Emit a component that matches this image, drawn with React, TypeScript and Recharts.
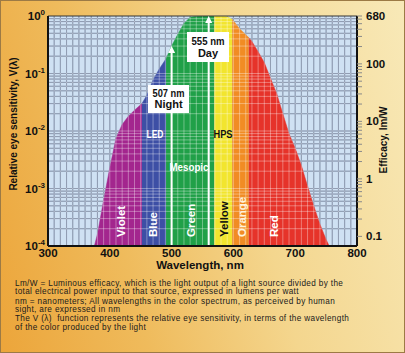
import React from "react";
import {
    ComposedChart,
    Area,
    XAxis,
    YAxis,
    CartesianGrid,
    ReferenceLine,
} from "recharts";

// V(lambda) curve as drawn in the picture (nm -> relative sensitivity)
const WAVELENGTHS = [
    375, 380, 390, 400, 410, 420, 430, 440, 452, 460, 470, 480, 491, 500, 510,
    520, 530, 540, 550, 560, 569, 580, 590, 598, 610, 620, 625, 630, 640, 650,
    660, 670, 680, 690, 700, 710, 720, 730, 740, 750, 755,
];
const SENSITIVITY = [
    0.0001, 0.00016, 0.00063, 0.0023, 0.0075, 0.013, 0.018, 0.023, 0.03, 0.042,
    0.077, 0.12, 0.18, 0.3, 0.48, 0.74, 0.95, 0.99, 1, 1, 1, 1, 0.97, 0.88, 0.6,
    0.47, 0.42, 0.36, 0.24, 0.155, 0.083, 0.045, 0.02, 0.009, 0.005, 0.0025,
    0.0011, 0.0005, 0.00024, 0.00013, 0.0001,
];

const BAND_NAMES = ["Violet", "Blue", "Green", "Yellow", "Orange", "Red"];
const BAND_FROM = [375, 452, 491, 569, 598, 625];
const BAND_TO = [452, 491, 569, 598, 625, 755];
const BAND_COLORS = ["#a3268e", "#3d4fa5", "#20a048", "#f2e52e", "#f18c24", "#e6332a"];
const BAND_TEXT = ["#ffffff", "#ffffff", "#ffffff", "#111111", "#fff4dc", "#ffffff"];

const X_TICKS = [300, 400, 500, 600, 700, 800];
const V_TICKS = [0.0001, 0.001, 0.01, 0.1, 1];
const EFF_MAJOR = [0.1, 1, 10, 100, 680];
const EFF_MINOR = [
    0.2, 0.3, 0.4, 0.5, 0.6, 0.7, 0.8, 0.9, 2, 3, 4, 5, 6, 7, 8, 9, 20, 30, 40,
    50, 60, 70, 80, 90, 200, 300, 400, 500, 600,
];

// arrows sit where the picture draws them (labelled 507 nm and 555 nm)
const NIGHT_ARROW = { nm: 500, top: 0.3 };
const DAY_ARROW = { nm: 560, top: 1 };

const GRID_X = Array.from({ length: 49 }, (_, i) => 310 + i * 10);
const GRID_Y = [-4, -3, -2, -1].flatMap((k) => {
    const vals = [2, 3, 4, 5, 6, 7, 8, 9].map((m) => m * Math.pow(10, k));
    return k > -4 ? [Math.pow(10, k), ...vals] : vals;
});

const data = WAVELENGTHS.map((nm, i) => {
    const row: Record<string, number | null> = { nm };
    BAND_NAMES.forEach((b, j) => {
        row[b] = nm >= BAND_FROM[j] && nm <= BAND_TO[j] ? SENSITIVITY[i] : null;
    });
    return row;
});

const FONT = "'Liberation Sans', Arial, sans-serif";

const PowerTick = ({ x, y, payload }: any) => {
    const exp = Math.round(Math.log10(payload.value));
    return (
        <text x={x} y={y + 4} textAnchor="end" fontFamily={FONT} fontWeight="bold" fill="#111">
            <tspan fontSize={11.5}>10</tspan>
            <tspan fontSize={8} dy={-5}>{exp === 0 ? "0" : `-${Math.abs(exp)}`}</tspan>
        </text>
    );
};

const EffTick = ({ x, y, payload }: any) => {
    const major = EFF_MAJOR.includes(payload.value);
    return (
        <g>
            <line x1={x} x2={x + 5} y1={y} y2={y} stroke="#8a8a8a" strokeWidth={1} />
            {major && (
                <text x={x + 9} y={y + 4} fontSize={11.5} fontFamily={FONT} fontWeight="bold" fill="#111">
                    {payload.value}
                </text>
            )}
        </g>
    );
};

const Arrow = ({ x1, y1, x2, y2 }: any) => {
    const top = Math.min(y1, y2);
    const bottom = Math.max(y1, y2);
    return (
        <g>
            <line x1={x1} x2={x1} y1={bottom} y2={top + 5} stroke="#fff" strokeWidth={2} />
            <polygon points={`${x1 - 3.5},${top + 7} ${x1 + 3.5},${top + 7} ${x1},${top}`} fill="#fff" />
        </g>
    );
};

export default function App() {
    return (
        <div
            style={{
                position: "relative",
                width: 405,
                height: 353,
                background:
                    "linear-gradient(75deg, #eca53a 0%, #efbb5c 30%, #f4d68e 60%, #f8e9b8 100%)",
                boxShadow: "inset 0 0 0 1px #9c7a45",
                overflow: "hidden",
            }}
        >
            <style>{"body{margin:0}"}</style>
            <div style={{ position: "absolute", left: 0, top: 0 }}>
                <ComposedChart
                    width={405}
                    height={282}
                    data={data}
                    margin={{ top: 16, right: 0, bottom: 0, left: 0 }}
                >
                    <CartesianGrid
                        yAxisId="v"
                        fill="#cfe1f3"
                        fillOpacity={1}
                        stroke="#56698a"
                        strokeWidth={1}
                        verticalValues={GRID_X}
                        horizontalValues={GRID_Y}
                    />
                    <XAxis
                        dataKey="nm"
                        type="number"
                        domain={[300, 800]}
                        ticks={X_TICKS}
                        interval={0}
                        allowDataOverflow
                        height={36}
                        tickSize={0}
                        tickMargin={3}
                        tick={{ fontSize: 11.5, fontFamily: FONT, fontWeight: "bold", fill: "#111" }}
                        axisLine={{ stroke: "#111", strokeWidth: 2 }}
                    />
                    <YAxis
                        yAxisId="v"
                        type="number"
                        scale="log"
                        domain={[0.0001, 1]}
                        ticks={V_TICKS}
                        interval={0}
                        allowDataOverflow
                        width={48}
                        tickSize={0}
                        tickMargin={3}
                        tick={<PowerTick />}
                        axisLine={{ stroke: "#111", strokeWidth: 2 }}
                    />
                    <YAxis
                        yAxisId="eff"
                        orientation="right"
                        type="number"
                        scale="log"
                        domain={[0.068, 680]}
                        ticks={[...EFF_MINOR, ...EFF_MAJOR]}
                        interval={0}
                        allowDataOverflow
                        width={48}
                        tickSize={0}
                        tickMargin={0}
                        tick={<EffTick />}
                        axisLine={{ stroke: "#111", strokeWidth: 2 }}
                    />
                    {BAND_NAMES.map((b, j) => (
                        <Area
                            key={b}
                            yAxisId="v"
                            dataKey={b}
                            type="linear"
                            baseValue={0.0001}
                            stroke={BAND_COLORS[j]}
                            strokeWidth={0.5}
                            fill={BAND_COLORS[j]}
                            fillOpacity={1}
                            dot={false}
                            activeDot={false}
                            isAnimationActive={false}
                        />
                    ))}
                    {GRID_X.map((v) => (
                        <ReferenceLine key={`gx${v}`} yAxisId="v" x={v} stroke="#ffffff" strokeOpacity={0.35} />
                    ))}
                    {GRID_Y.map((v) => (
                        <ReferenceLine key={`gy${v}`} yAxisId="v" y={v} stroke="#ffffff" strokeOpacity={0.35} />
                    ))}
                    <ReferenceLine yAxisId="v" y={1} stroke="#333" strokeWidth={1} />
                    <ReferenceLine
                        yAxisId="v"
                        segment={[{ x: NIGHT_ARROW.nm, y: 0.0001 }, { x: NIGHT_ARROW.nm, y: NIGHT_ARROW.top }]}
                        shape={<Arrow />}
                    />
                    <ReferenceLine
                        yAxisId="v"
                        segment={[{ x: DAY_ARROW.nm, y: 0.0001 }, { x: DAY_ARROW.nm, y: DAY_ARROW.top }]}
                        shape={<Arrow />}
                    />
                </ComposedChart>
            </div>

            <svg
                width={405}
                height={353}
                style={{ position: "absolute", left: 0, top: 0, pointerEvents: "none" }}
                fontFamily={FONT}
                fontWeight="bold"
            >
                <text x={13} y={124} fontSize={10} fill="#111" textAnchor="middle" dominantBaseline="central" transform="rotate(-90 13 124)">
                    Relative eye sensitivity, V(λ)
                </text>
                <text x={383} y={140} fontSize={10} fill="#111" textAnchor="middle" dominantBaseline="central" transform="rotate(-90 383 140)">
                    Efficacy, lm/W
                </text>
                <text x={200} y={265} fontSize={11.5} fill="#111" textAnchor="middle" dominantBaseline="central">
                    Wavelength, nm
                </text>

                {[121, 153, 191, 224, 242, 274].map((cx, j) => (
                    <text
                        key={BAND_NAMES[j]}
                        x={cx}
                        y={237}
                        fontSize={11.5}
                        fill={BAND_TEXT[j]}
                        dominantBaseline="central"
                        transform={`rotate(-90 ${cx} 237)`}
                    >
                        {BAND_NAMES[j]}
                    </text>
                ))}

                <text x={155} y={134} fontSize={10.5} fill="#fff" textAnchor="middle" dominantBaseline="central" textLength={17} lengthAdjust="spacingAndGlyphs">LED</text>
                <text x={223} y={134} fontSize={10.5} fill="#111" textAnchor="middle" dominantBaseline="central" textLength={19} lengthAdjust="spacingAndGlyphs">HPS</text>
                <text x={189} y={167} fontSize={11} fill="#fff" textAnchor="middle" dominantBaseline="central" textLength={39} lengthAdjust="spacingAndGlyphs">Mesopic</text>

                <rect x={187} y={32} width={42} height={30} fill="#fff" />
                <text x={208} y={41} fontSize={10.5} fill="#111" textAnchor="middle" dominantBaseline="central" textLength={33} lengthAdjust="spacingAndGlyphs">555 nm</text>
                <text x={208} y={53} fontSize={11} fill="#111" textAnchor="middle" dominantBaseline="central">Day</text>

                <rect x={148} y={85} width={41} height={28} fill="#fff" />
                <text x={168.5} y={93} fontSize={10.5} fill="#111" textAnchor="middle" dominantBaseline="central" textLength={32} lengthAdjust="spacingAndGlyphs">507 nm</text>
                <text x={168.5} y={104} fontSize={11} fill="#111" textAnchor="middle" dominantBaseline="central">Night</text>
            </svg>

            <div
                style={{
                    position: "absolute",
                    left: 15,
                    top: 280,
                    fontFamily: FONT,
                    fontSize: 8.2,
                    letterSpacing: 0.36,
                    lineHeight: "8.4px",
                    color: "#1a1a1a",
                    whiteSpace: "nowrap",
                }}
            >
                <div style={{ marginBottom: 0.8 }}>
                    Lm/W = Luminous efficacy, which is the light output of a light source divided by the
                    <br />
                    total electrical power input to that source, expressed in lumens per watt
                </div>
                <div style={{ marginBottom: 0.8 }}>
                    nm = nanometers; All wavelengths in the color spectrum, as perceived by human
                    <br />
                    sight, are expressed in nm
                </div>
                <div>
                    The V (λ)&nbsp; function represents the relative eye sensitivity, in terms of the wavelength
                    <br />
                    of the color produced by the light
                </div>
            </div>
        </div>
    );
}
